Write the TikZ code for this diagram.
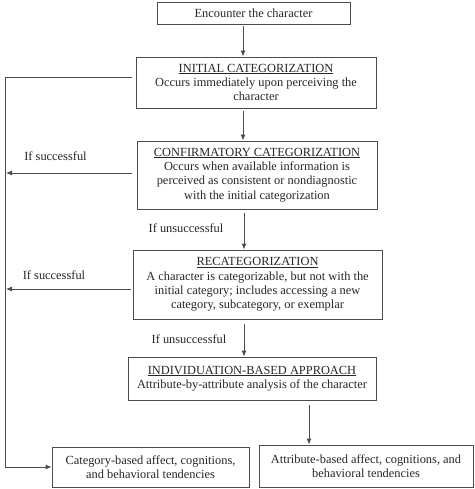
\documentclass[tikz,border=0pt]{standalone}
\usepackage{fontspec}
\setmainfont{Liberation Serif}
\usetikzlibrary{arrows.meta,calc}
\definecolor{ink}{gray}{0.15}
\definecolor{edge}{gray}{0.3}
\tikzset{
  box/.style={draw=edge, line width=0.9pt, align=center, inner sep=0pt, text=ink,
    font=\fontsize{12.4}{14.4}\selectfont},
  arr/.style={draw=edge, line width=0.9pt, -{Latex[length=6pt,width=5pt]}},
  ln/.style={draw=edge, line width=0.9pt},
  lab/.style={text=ink, font=\fontsize{12.4}{14}\selectfont, inner sep=0pt}
}
\begin{document}
\begin{tikzpicture}[x=1pt,y=-1pt]
\useasboundingbox (0,0) rectangle (474,489);
\node[box, minimum width=193pt, minimum height=22pt] (B1) at (253.5,13) {Encounter the character};
\node[box, minimum width=240pt, minimum height=51pt] (B2) at (256,82.5)
  {\underline{INITIAL CATEGORIZATION}\\Occurs immediately upon perceiving the\\character};
\node[box, minimum width=240pt, minimum height=68pt] (B3) at (257,175)
  {\underline{CONFIRMATORY CATEGORIZATION}\\Occurs when available information is\\perceived as consistent or nondiagnostic\\with the initial categorization};
\node[box, minimum width=249pt, minimum height=69pt] (B4) at (257.5,284.5)
  {\underline{RECATEGORIZATION}\\A character is categorizable, but not with the\\initial category; includes accessing a new\\category, subcategory, or exemplar};
\node[box, minimum width=248pt, minimum height=43pt] (B5) at (252,378.5)
  {\underline{INDIVIDUATION-BASED APPROACH}\\Attribute-by-attribute analysis of the character};
\node[box, minimum width=197pt, minimum height=40pt] (B6) at (150.5,467)
  {Category-based affect, cognitions,\\and behavioral tendencies};
\node[box, minimum width=214pt, minimum height=42pt] (B7) at (366,466)
  {Attribute-based affect, cognitions, and\\behavioral tendencies};

\node[lab] (s1) at (55.5,156) {If successful};
\node[lab] (s2) at (54,275) {If successful};
\node[lab] (u1) at (186,228) {If unsuccessful};
\node[lab] (u2) at (189,339) {If unsuccessful};

\coordinate (c1) at (243,0);
\coordinate (c2) at (244,0);
\coordinate (c3) at (309,0);
\coordinate (L) at (5,0);

\draw[arr, shorten <=2pt] (c1 |- B1.south) -- (c1 |- B2.north);
\draw[arr, shorten <=3pt] (c1 |- B2.south) -- (c1 |- B3.north);
\draw[arr, shorten <=4pt] (c2 |- B3.south) -- (c2 |- B4.north);
\draw[arr, shorten <=5pt] (c2 |- B4.south) -- (c2 |- B5.north);
\draw[arr, shorten <=5pt] (c3 |- B5.south) -- (c3 |- B7.north);

\coordinate (t2) at ($(B2.west)+(-4,-5.5)$);
\coordinate (t3) at ($(B3.west)+(-5,-2)$);
\coordinate (t4) at ($(B4.west)+(-2,4.5)$);
\draw[ln] (t2) -- (L |- t2) -- (L |- B6.west) coordinate (bl);
\draw[arr] (bl) -- (B6.west);
\draw[arr] (t3) -- ($(L |- t3)+(1,0)$);
\draw[arr] (t4) -- ($(L |- t4)+(1,0)$);
\end{tikzpicture}
\end{document}
